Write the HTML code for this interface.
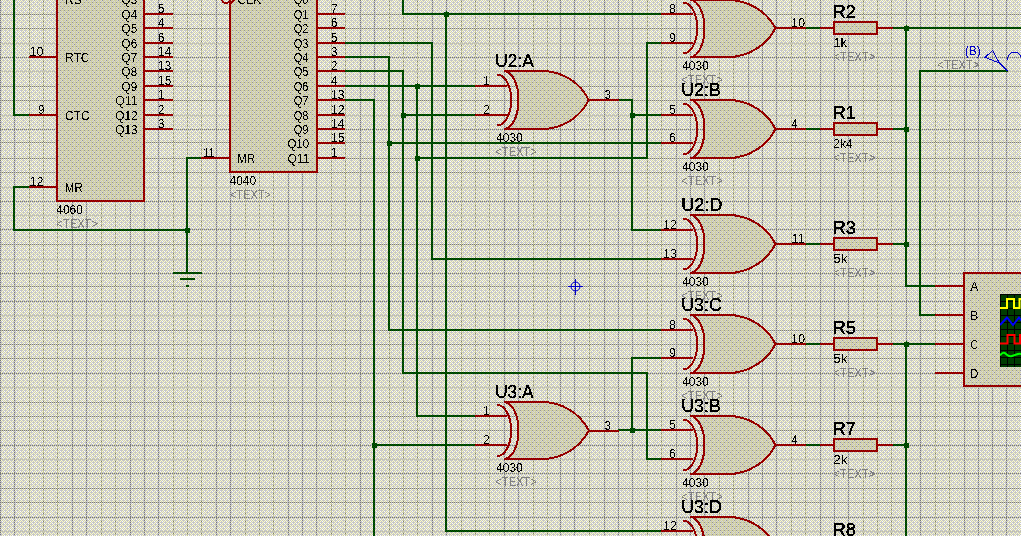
<!DOCTYPE html>
<html><head><meta charset="utf-8"><style>
html,body{margin:0;padding:0;width:1021px;height:536px;overflow:hidden;background:#dcdccc}
svg{display:block;will-change:transform}
text{font-family:"Liberation Sans",sans-serif;}
</style></head><body>
<svg width="1021" height="536" viewBox="0 0 1021 536" shape-rendering="crispEdges">
<defs>
<pattern id="bg" patternUnits="userSpaceOnUse" x="-2" y="-2" width="8" height="8">
<rect width="8" height="8" fill="#c6c6ca"/>
<rect x="1" y="0" width="1" height="1" fill="#fcfcc4"/>
<rect x="5" y="0" width="1" height="1" fill="#fcfcc4"/>
<rect x="0" y="1" width="1" height="1" fill="#fcfcc4"/>
<rect x="2" y="1" width="1" height="1" fill="#ffffff"/>
<rect x="4" y="1" width="1" height="1" fill="#fcfcc4"/>
<rect x="6" y="1" width="1" height="1" fill="#ffffff"/>
<rect x="3" y="2" width="1" height="1" fill="#fcfcc4"/>
<rect x="5" y="2" width="1" height="1" fill="#fcfcc4"/>
<rect x="7" y="2" width="1" height="1" fill="#fcfcc4"/>
<rect x="0" y="3" width="1" height="1" fill="#fcfcc4"/>
<rect x="2" y="3" width="1" height="1" fill="#fcfcc4"/>
<rect x="4" y="3" width="1" height="1" fill="#ffffff"/>
<rect x="6" y="3" width="1" height="1" fill="#fcfcc4"/>
<rect x="1" y="4" width="1" height="1" fill="#fcfcc4"/>
<rect x="5" y="4" width="1" height="1" fill="#fcfcc4"/>
<rect x="0" y="5" width="1" height="1" fill="#fcfcc4"/>
<rect x="2" y="5" width="1" height="1" fill="#ffffff"/>
<rect x="4" y="5" width="1" height="1" fill="#fcfcc4"/>
<rect x="6" y="5" width="1" height="1" fill="#ffffff"/>
<rect x="3" y="6" width="1" height="1" fill="#fcfcc4"/>
<rect x="7" y="6" width="1" height="1" fill="#fcfcc4"/>
<rect x="0" y="7" width="1" height="1" fill="#fcfcc4"/>
<rect x="2" y="7" width="1" height="1" fill="#fcfcc4"/>
<rect x="4" y="7" width="1" height="1" fill="#fcfcc4"/>
<rect x="6" y="7" width="1" height="1" fill="#fcfcc4"/>
</pattern>
<pattern id="bf" patternUnits="userSpaceOnUse" x="-2" y="-4" width="8" height="8">
<rect width="8" height="8" fill="#d0cfa0"/>
<rect x="3" y="0" width="1" height="1" fill="#d6d6da"/>
<rect x="4" y="0" width="1" height="1" fill="#94949a"/>
<rect x="7" y="0" width="1" height="1" fill="#d6d6da"/>
<rect x="0" y="1" width="1" height="1" fill="#d6d6da"/>
<rect x="2" y="1" width="1" height="1" fill="#d6d6da"/>
<rect x="4" y="1" width="1" height="1" fill="#d6d6da"/>
<rect x="6" y="1" width="1" height="1" fill="#d6d6da"/>
<rect x="2" y="2" width="1" height="1" fill="#94949a"/>
<rect x="6" y="2" width="1" height="1" fill="#94949a"/>
<rect x="0" y="3" width="1" height="1" fill="#d6d6da"/>
<rect x="2" y="3" width="1" height="1" fill="#d6d6da"/>
<rect x="4" y="3" width="1" height="1" fill="#d6d6da"/>
<rect x="6" y="3" width="1" height="1" fill="#d6d6da"/>
<rect x="0" y="4" width="1" height="1" fill="#94949a"/>
<rect x="3" y="4" width="1" height="1" fill="#d6d6da"/>
<rect x="7" y="4" width="1" height="1" fill="#d6d6da"/>
<rect x="0" y="5" width="1" height="1" fill="#d6d6da"/>
<rect x="2" y="5" width="1" height="1" fill="#d6d6da"/>
<rect x="4" y="5" width="1" height="1" fill="#d6d6da"/>
<rect x="6" y="5" width="1" height="1" fill="#d6d6da"/>
<rect x="2" y="6" width="1" height="1" fill="#94949a"/>
<rect x="6" y="6" width="1" height="1" fill="#94949a"/>
<rect x="0" y="7" width="1" height="1" fill="#d6d6da"/>
<rect x="2" y="7" width="1" height="1" fill="#d6d6da"/>
<rect x="4" y="7" width="1" height="1" fill="#d6d6da"/>
<rect x="6" y="7" width="1" height="1" fill="#d6d6da"/>
</pattern>
<pattern id="rp" patternUnits="userSpaceOnUse" width="2" height="2"><rect width="2" height="2" fill="#7a0000"/><rect width="1" height="1" fill="#b00000"/><rect x="1" y="1" width="1" height="1" fill="#b00000"/></pattern>
<pattern id="gp" patternUnits="userSpaceOnUse" width="2" height="2"><rect width="2" height="2" fill="#002800"/><rect x="1" width="1" height="1" fill="#006c00"/><rect y="1" width="1" height="1" fill="#006c00"/></pattern>
<filter id="crisp" x="0" y="0" width="1021" height="536" filterUnits="userSpaceOnUse" color-interpolation-filters="sRGB"><feComponentTransfer><feFuncA type="discrete" tableValues="0 1"/></feComponentTransfer></filter>
</defs>
<rect width="1021" height="536" fill="url(#bg)"/>
<pattern id="vd" patternUnits="userSpaceOnUse" width="1" height="2"><rect width="1" height="2" fill="#c6c6ca"/><rect width="1" height="1" fill="#787878"/></pattern>
<pattern id="vl" patternUnits="userSpaceOnUse" width="1" height="4"><rect width="1" height="4" fill="#c4c49c"/><rect y="1" width="1" height="1" fill="#787878"/></pattern>
<pattern id="hd" patternUnits="userSpaceOnUse" width="4" height="1"><rect width="4" height="1" fill="#c6c6ca"/><rect width="1" height="1" fill="#787878"/><rect x="2" width="1" height="1" fill="#787878"/><rect x="1" width="1" height="1" fill="#c4c49c"/></pattern>
<rect x="0" y="0" width="1" height="536" fill="url(#vd)"/>
<rect x="14" y="0" width="1" height="536" fill="url(#vd)"/>
<rect x="29" y="0" width="1" height="536" fill="url(#vl)"/>
<rect x="43" y="0" width="1" height="536" fill="url(#vl)"/>
<rect x="57" y="0" width="1" height="536" fill="url(#vl)"/>
<rect x="72" y="0" width="1" height="536" fill="url(#vd)"/>
<rect x="86" y="0" width="1" height="536" fill="url(#vd)"/>
<rect x="101" y="0" width="1" height="536" fill="url(#vl)"/>
<rect x="115" y="0" width="1" height="536" fill="url(#vl)"/>
<rect x="130" y="0" width="1" height="536" fill="url(#vd)"/>
<rect x="144" y="0" width="1" height="536" fill="url(#vd)"/>
<rect x="158" y="0" width="1" height="536" fill="url(#vd)"/>
<rect x="173" y="0" width="1" height="536" fill="url(#vl)"/>
<rect x="187" y="0" width="1" height="536" fill="url(#vl)"/>
<rect x="201" y="0" width="1" height="536" fill="url(#vl)"/>
<rect x="216" y="0" width="1" height="536" fill="url(#vd)"/>
<rect x="230" y="0" width="1" height="536" fill="url(#vd)"/>
<rect x="245" y="0" width="1" height="536" fill="url(#vl)"/>
<rect x="259" y="0" width="1" height="536" fill="url(#vl)"/>
<rect x="273" y="0" width="1" height="536" fill="url(#vl)"/>
<rect x="288" y="0" width="1" height="536" fill="url(#vd)"/>
<rect x="302" y="0" width="1" height="536" fill="url(#vd)"/>
<rect x="316" y="0" width="1" height="536" fill="url(#vd)"/>
<rect x="331" y="0" width="1" height="536" fill="url(#vl)"/>
<rect x="345" y="0" width="1" height="536" fill="url(#vl)"/>
<rect x="360" y="0" width="1" height="536" fill="url(#vd)"/>
<rect x="374" y="0" width="1" height="536" fill="url(#vd)"/>
<rect x="389" y="0" width="1" height="536" fill="url(#vl)"/>
<rect x="403" y="0" width="1" height="536" fill="url(#vl)"/>
<rect x="417" y="0" width="1" height="536" fill="url(#vl)"/>
<rect x="432" y="0" width="1" height="536" fill="url(#vd)"/>
<rect x="446" y="0" width="1" height="536" fill="url(#vd)"/>
<rect x="461" y="0" width="1" height="536" fill="url(#vl)"/>
<rect x="475" y="0" width="1" height="536" fill="url(#vl)"/>
<rect x="489" y="0" width="1" height="536" fill="url(#vl)"/>
<rect x="504" y="0" width="1" height="536" fill="url(#vd)"/>
<rect x="518" y="0" width="1" height="536" fill="url(#vd)"/>
<rect x="533" y="0" width="1" height="536" fill="url(#vl)"/>
<rect x="547" y="0" width="1" height="536" fill="url(#vl)"/>
<rect x="560" y="0" width="1" height="536" fill="url(#vd)"/>
<rect x="574" y="0" width="1" height="536" fill="url(#vd)"/>
<rect x="589" y="0" width="1" height="536" fill="url(#vl)"/>
<rect x="604" y="0" width="1" height="536" fill="url(#vd)"/>
<rect x="618" y="0" width="1" height="536" fill="url(#vd)"/>
<rect x="632" y="0" width="1" height="536" fill="url(#vd)"/>
<rect x="647" y="0" width="1" height="536" fill="url(#vl)"/>
<rect x="661" y="0" width="1" height="536" fill="url(#vl)"/>
<rect x="676" y="0" width="1" height="536" fill="url(#vd)"/>
<rect x="690" y="0" width="1" height="536" fill="url(#vd)"/>
<rect x="704" y="0" width="1" height="536" fill="url(#vd)"/>
<rect x="719" y="0" width="1" height="536" fill="url(#vl)"/>
<rect x="733" y="0" width="1" height="536" fill="url(#vl)"/>
<rect x="748" y="0" width="1" height="536" fill="url(#vd)"/>
<rect x="762" y="0" width="1" height="536" fill="url(#vd)"/>
<rect x="776" y="0" width="1" height="536" fill="url(#vd)"/>
<rect x="791" y="0" width="1" height="536" fill="url(#vl)"/>
<rect x="805" y="0" width="1" height="536" fill="url(#vl)"/>
<rect x="820" y="0" width="1" height="536" fill="url(#vd)"/>
<rect x="834" y="0" width="1" height="536" fill="url(#vd)"/>
<rect x="848" y="0" width="1" height="536" fill="url(#vd)"/>
<rect x="863" y="0" width="1" height="536" fill="url(#vl)"/>
<rect x="877" y="0" width="1" height="536" fill="url(#vl)"/>
<rect x="891" y="0" width="1" height="536" fill="url(#vl)"/>
<rect x="906" y="0" width="1" height="536" fill="url(#vd)"/>
<rect x="920" y="0" width="1" height="536" fill="url(#vd)"/>
<rect x="935" y="0" width="1" height="536" fill="url(#vl)"/>
<rect x="949" y="0" width="1" height="536" fill="url(#vl)"/>
<rect x="964" y="0" width="1" height="536" fill="url(#vd)"/>
<rect x="978" y="0" width="1" height="536" fill="url(#vd)"/>
<rect x="992" y="0" width="1" height="536" fill="url(#vd)"/>
<rect x="1006" y="0" width="1" height="536" fill="url(#vd)"/>
<pattern id="hl" patternUnits="userSpaceOnUse" width="2" height="1"><rect width="2" height="1" fill="#c6c6ca"/><rect width="1" height="1" fill="#c4c49c"/></pattern>
<rect x="0" y="14" width="1021" height="1" fill="url(#hd)"/>
<rect x="0" y="28" width="1021" height="1" fill="url(#hd)"/>
<rect x="0" y="43" width="1021" height="1" fill="url(#hl)"/>
<rect x="0" y="57" width="1021" height="1" fill="url(#hd)"/>
<rect x="0" y="71" width="1021" height="1" fill="url(#hl)"/>
<rect x="0" y="86" width="1021" height="1" fill="url(#hd)"/>
<rect x="0" y="100" width="1021" height="1" fill="url(#hd)"/>
<rect x="0" y="115" width="1021" height="1" fill="url(#hl)"/>
<rect x="0" y="129" width="1021" height="1" fill="url(#hd)"/>
<rect x="0" y="142" width="1021" height="1" fill="url(#hd)"/>
<rect x="0" y="158" width="1021" height="1" fill="url(#hd)"/>
<rect x="0" y="172" width="1021" height="1" fill="url(#hd)"/>
<rect x="0" y="187" width="1021" height="1" fill="url(#hl)"/>
<rect x="0" y="201" width="1021" height="1" fill="url(#hd)"/>
<rect x="0" y="215" width="1021" height="1" fill="url(#hl)"/>
<rect x="0" y="229" width="1021" height="1" fill="url(#hd)"/>
<rect x="0" y="244" width="1021" height="1" fill="url(#hd)"/>
<rect x="0" y="259" width="1021" height="1" fill="url(#hl)"/>
<rect x="0" y="273" width="1021" height="1" fill="url(#hd)"/>
<rect x="0" y="286" width="1021" height="1" fill="url(#hd)"/>
<rect x="0" y="301" width="1021" height="1" fill="url(#hd)"/>
<rect x="0" y="315" width="1021" height="1" fill="url(#hl)"/>
<rect x="0" y="330" width="1021" height="1" fill="url(#hd)"/>
<rect x="0" y="344" width="1021" height="1" fill="url(#hd)"/>
<rect x="0" y="358" width="1021" height="1" fill="url(#hd)"/>
<rect x="0" y="373" width="1021" height="1" fill="url(#hd)"/>
<rect x="0" y="387" width="1021" height="1" fill="url(#hl)"/>
<rect x="0" y="402" width="1021" height="1" fill="url(#hd)"/>
<rect x="0" y="416" width="1021" height="1" fill="url(#hd)"/>
<rect x="0" y="430" width="1021" height="1" fill="url(#hd)"/>
<rect x="0" y="445" width="1021" height="1" fill="url(#hd)"/>
<rect x="0" y="459" width="1021" height="1" fill="url(#hl)"/>
<rect x="0" y="473" width="1021" height="1" fill="url(#hd)"/>
<rect x="0" y="488" width="1021" height="1" fill="url(#hd)"/>
<rect x="0" y="502" width="1021" height="1" fill="url(#hd)"/>
<rect x="0" y="517" width="1021" height="1" fill="url(#hd)"/>
<rect x="0" y="531" width="1021" height="1" fill="url(#hl)"/>
<rect x="13.0" y="-3" width="2" height="119" fill="url(#gp)"/>
<rect x="13" y="114.0" width="17" height="2" fill="url(#gp)"/>
<rect x="13" y="186.0" width="17" height="2" fill="url(#gp)"/>
<rect x="13.0" y="186" width="2" height="45" fill="url(#gp)"/>
<rect x="13" y="229.0" width="175" height="2" fill="url(#gp)"/>
<rect x="186" y="157.0" width="16" height="2" fill="url(#gp)"/>
<rect x="186.0" y="157" width="2" height="117" fill="url(#gp)"/>
<rect x="185" y="228" width="5" height="5" fill="url(#gp)"/>
<rect x="187" y="227" width="1" height="1" fill="url(#gp)"/>
<rect x="173" y="272.0" width="29" height="2" fill="url(#gp)"/>
<rect x="180" y="278.0" width="15" height="2" fill="url(#gp)"/>
<rect x="186" y="285.0" width="3" height="2" fill="url(#gp)"/>
<rect x="344" y="42.0" width="89" height="2" fill="url(#gp)"/>
<rect x="431.0" y="42" width="2" height="218" fill="url(#gp)"/>
<rect x="431" y="258.0" width="231" height="2" fill="url(#gp)"/>
<rect x="344" y="56.0" width="46" height="2" fill="url(#gp)"/>
<rect x="388.0" y="56" width="2" height="275" fill="url(#gp)"/>
<rect x="388" y="329.0" width="274" height="2" fill="url(#gp)"/>
<rect x="388" y="142.0" width="274" height="2" fill="url(#gp)"/>
<rect x="387" y="141" width="5" height="5" fill="url(#gp)"/>
<rect x="389" y="140" width="1" height="1" fill="url(#gp)"/>
<rect x="344" y="70.0" width="60" height="2" fill="url(#gp)"/>
<rect x="402.0" y="70" width="2" height="304" fill="url(#gp)"/>
<rect x="402" y="372.0" width="246" height="2" fill="url(#gp)"/>
<rect x="646.0" y="372" width="2" height="88" fill="url(#gp)"/>
<rect x="646" y="458.0" width="16" height="2" fill="url(#gp)"/>
<rect x="402" y="114.0" width="74" height="2" fill="url(#gp)"/>
<rect x="401" y="113" width="5" height="5" fill="url(#gp)"/>
<rect x="403" y="112" width="1" height="1" fill="url(#gp)"/>
<rect x="344" y="85.0" width="132" height="2" fill="url(#gp)"/>
<rect x="416.0" y="85" width="2" height="332" fill="url(#gp)"/>
<rect x="416" y="415.0" width="60" height="2" fill="url(#gp)"/>
<rect x="415" y="84" width="5" height="5" fill="url(#gp)"/>
<rect x="417" y="83" width="1" height="1" fill="url(#gp)"/>
<rect x="416" y="157.0" width="232" height="2" fill="url(#gp)"/>
<rect x="646.0" y="42" width="2" height="117" fill="url(#gp)"/>
<rect x="646" y="42.0" width="16" height="2" fill="url(#gp)"/>
<rect x="415" y="156" width="5" height="5" fill="url(#gp)"/>
<rect x="417" y="155" width="1" height="1" fill="url(#gp)"/>
<rect x="344" y="99.0" width="31" height="2" fill="url(#gp)"/>
<rect x="373.0" y="99" width="2" height="442" fill="url(#gp)"/>
<rect x="373" y="444.0" width="103" height="2" fill="url(#gp)"/>
<rect x="372" y="443" width="5" height="5" fill="url(#gp)"/>
<rect x="374" y="442" width="1" height="1" fill="url(#gp)"/>
<rect x="402.0" y="-3" width="2" height="18" fill="url(#gp)"/>
<rect x="402" y="13.0" width="260" height="2" fill="url(#gp)"/>
<rect x="445.0" y="13" width="2" height="519" fill="url(#gp)"/>
<rect x="445" y="530.0" width="217" height="2" fill="url(#gp)"/>
<rect x="444" y="12" width="5" height="5" fill="url(#gp)"/>
<rect x="446" y="11" width="1" height="1" fill="url(#gp)"/>
<rect x="618" y="99.0" width="15" height="2" fill="url(#gp)"/>
<rect x="631.0" y="99" width="2" height="132" fill="url(#gp)"/>
<rect x="631" y="229.0" width="31" height="2" fill="url(#gp)"/>
<rect x="631" y="114.0" width="31" height="2" fill="url(#gp)"/>
<rect x="630" y="113" width="5" height="5" fill="url(#gp)"/>
<rect x="632" y="112" width="1" height="1" fill="url(#gp)"/>
<rect x="631" y="357.0" width="31" height="2" fill="url(#gp)"/>
<rect x="631.0" y="357" width="2" height="74" fill="url(#gp)"/>
<rect x="631" y="429.0" width="31" height="2" fill="url(#gp)"/>
<rect x="618" y="429.0" width="15" height="2" fill="url(#gp)"/>
<rect x="630" y="428" width="5" height="5" fill="url(#gp)"/>
<rect x="632" y="427" width="1" height="1" fill="url(#gp)"/>
<rect x="805" y="27.0" width="16" height="2" fill="url(#gp)"/>
<rect x="892" y="27.0" width="15" height="2" fill="url(#gp)"/>
<rect x="805" y="128.0" width="16" height="2" fill="url(#gp)"/>
<rect x="892" y="128.0" width="15" height="2" fill="url(#gp)"/>
<rect x="805" y="243.0" width="16" height="2" fill="url(#gp)"/>
<rect x="892" y="243.0" width="15" height="2" fill="url(#gp)"/>
<rect x="805" y="343.0" width="16" height="2" fill="url(#gp)"/>
<rect x="892" y="343.0" width="15" height="2" fill="url(#gp)"/>
<rect x="805" y="444.0" width="16" height="2" fill="url(#gp)"/>
<rect x="892" y="444.0" width="15" height="2" fill="url(#gp)"/>
<rect x="805" y="545.0" width="16" height="2" fill="url(#gp)"/>
<rect x="892" y="545.0" width="15" height="2" fill="url(#gp)"/>
<rect x="905" y="27.0" width="121" height="2" fill="url(#gp)"/>
<rect x="905.0" y="27" width="2" height="260" fill="url(#gp)"/>
<rect x="905" y="285.0" width="31" height="2" fill="url(#gp)"/>
<rect x="905.0" y="343" width="2" height="198" fill="url(#gp)"/>
<rect x="905" y="343.0" width="31" height="2" fill="url(#gp)"/>
<rect x="919" y="70.0" width="89" height="2" fill="url(#gp)"/>
<rect x="919.0" y="70" width="2" height="246" fill="url(#gp)"/>
<rect x="919" y="314.0" width="17" height="2" fill="url(#gp)"/>
<rect x="904" y="26" width="5" height="5" fill="url(#gp)"/>
<rect x="906" y="25" width="1" height="1" fill="url(#gp)"/>
<rect x="904" y="127" width="5" height="5" fill="url(#gp)"/>
<rect x="906" y="126" width="1" height="1" fill="url(#gp)"/>
<rect x="904" y="242" width="5" height="5" fill="url(#gp)"/>
<rect x="906" y="241" width="1" height="1" fill="url(#gp)"/>
<rect x="904" y="342" width="5" height="5" fill="url(#gp)"/>
<rect x="906" y="341" width="1" height="1" fill="url(#gp)"/>
<rect x="904" y="443" width="5" height="5" fill="url(#gp)"/>
<rect x="906" y="442" width="1" height="1" fill="url(#gp)"/>
<rect x="57" y="-60" width="87" height="261" fill="url(#bf)" stroke="url(#rp)" stroke-width="2"/>
<rect x="29" y="-2.0" width="28" height="2" fill="url(#rp)"/>
<rect x="29" y="56.0" width="28" height="2" fill="url(#rp)"/>
<rect x="29" y="114.0" width="28" height="2" fill="url(#rp)"/>
<rect x="29" y="186.0" width="28" height="2" fill="url(#rp)"/>
<rect x="144" y="-2.0" width="29" height="2" fill="url(#rp)"/>
<rect x="144" y="13.0" width="29" height="2" fill="url(#rp)"/>
<rect x="144" y="27.0" width="29" height="2" fill="url(#rp)"/>
<rect x="144" y="42.0" width="29" height="2" fill="url(#rp)"/>
<rect x="144" y="56.0" width="29" height="2" fill="url(#rp)"/>
<rect x="144" y="70.0" width="29" height="2" fill="url(#rp)"/>
<rect x="144" y="85.0" width="29" height="2" fill="url(#rp)"/>
<rect x="144" y="99.0" width="29" height="2" fill="url(#rp)"/>
<rect x="144" y="114.0" width="29" height="2" fill="url(#rp)"/>
<rect x="144" y="128.0" width="29" height="2" fill="url(#rp)"/>
<rect x="230" y="-60" width="87" height="232" fill="url(#bf)" stroke="url(#rp)" stroke-width="2"/>
<rect x="201" y="-2.0" width="21" height="2" fill="url(#rp)"/>
<rect x="201" y="157.0" width="29" height="2" fill="url(#rp)"/>
<circle cx="226" cy="-1" r="4" fill="none" stroke="url(#rp)" stroke-width="2"/>
<path d="M230,-6 L235,-1 L230,4" fill="none" stroke="url(#rp)" stroke-width="2"/>
<rect x="317" y="-2.0" width="28" height="2" fill="url(#rp)"/>
<rect x="317" y="13.0" width="28" height="2" fill="url(#rp)"/>
<rect x="317" y="27.0" width="28" height="2" fill="url(#rp)"/>
<rect x="317" y="42.0" width="28" height="2" fill="url(#rp)"/>
<rect x="317" y="56.0" width="28" height="2" fill="url(#rp)"/>
<rect x="317" y="70.0" width="28" height="2" fill="url(#rp)"/>
<rect x="317" y="85.0" width="28" height="2" fill="url(#rp)"/>
<rect x="317" y="99.0" width="28" height="2" fill="url(#rp)"/>
<rect x="317" y="114.0" width="28" height="2" fill="url(#rp)"/>
<rect x="317" y="128.0" width="28" height="2" fill="url(#rp)"/>
<rect x="317" y="142.0" width="28" height="2" fill="url(#rp)"/>
<rect x="317" y="157.0" width="28" height="2" fill="url(#rp)"/>
<path d="M690,0 L728,0 A54.29,54.29 0 0 1 775.5,28 A53.40,53.40 0 0 1 728,57 L690,57 A14.5,28.5 0 0 0 690,0 Z" fill="url(#bf)" stroke="url(#rp)" stroke-width="2"/>
<path d="M683.3,2.5 A13.9,25.5 0 0 1 683.3,53.5" fill="none" stroke="url(#rp)" stroke-width="2"/>
<rect x="661" y="13.0" width="32" height="2" fill="url(#rp)"/>
<rect x="661" y="42.0" width="32" height="2" fill="url(#rp)"/>
<rect x="775.5" y="27.0" width="30.0" height="2" fill="url(#rp)"/>
<path d="M504,71 L542,71 A52.26,52.26 0 0 1 588.8,100.0 A52.26,52.26 0 0 1 542,129 L504,129 A14.5,29.0 0 0 0 504,71 Z" fill="url(#bf)" stroke="url(#rp)" stroke-width="2"/>
<path d="M497.3,74.5 A13.9,25.5 0 0 1 497.3,125.5" fill="none" stroke="url(#rp)" stroke-width="2"/>
<rect x="475" y="85.0" width="32" height="2" fill="url(#rp)"/>
<rect x="475" y="114.0" width="32" height="2" fill="url(#rp)"/>
<rect x="588.8" y="99.0" width="30.0" height="2" fill="url(#rp)"/>
<path d="M690,100 L728,100 A53.40,53.40 0 0 1 775.5,129.0 A53.40,53.40 0 0 1 728,158 L690,158 A14.5,29.0 0 0 0 690,100 Z" fill="url(#bf)" stroke="url(#rp)" stroke-width="2"/>
<path d="M683.3,103.5 A13.9,25.5 0 0 1 683.3,154.5" fill="none" stroke="url(#rp)" stroke-width="2"/>
<rect x="661" y="114.0" width="32" height="2" fill="url(#rp)"/>
<rect x="661" y="142.0" width="32" height="2" fill="url(#rp)"/>
<rect x="775.5" y="128.0" width="30.0" height="2" fill="url(#rp)"/>
<path d="M690,215 L728,215 A53.40,53.40 0 0 1 775.5,244.0 A53.40,53.40 0 0 1 728,273 L690,273 A14.5,29.0 0 0 0 690,215 Z" fill="url(#bf)" stroke="url(#rp)" stroke-width="2"/>
<path d="M683.3,218.5 A13.9,25.5 0 0 1 683.3,269.5" fill="none" stroke="url(#rp)" stroke-width="2"/>
<rect x="661" y="229.0" width="32" height="2" fill="url(#rp)"/>
<rect x="661" y="258.0" width="32" height="2" fill="url(#rp)"/>
<rect x="775.5" y="243.0" width="30.0" height="2" fill="url(#rp)"/>
<path d="M690,315 L728,315 A53.40,53.40 0 0 1 775.5,344.0 A53.40,53.40 0 0 1 728,373 L690,373 A14.5,29.0 0 0 0 690,315 Z" fill="url(#bf)" stroke="url(#rp)" stroke-width="2"/>
<path d="M683.3,318.5 A13.9,25.5 0 0 1 683.3,369.5" fill="none" stroke="url(#rp)" stroke-width="2"/>
<rect x="661" y="329.0" width="32" height="2" fill="url(#rp)"/>
<rect x="661" y="357.0" width="32" height="2" fill="url(#rp)"/>
<rect x="775.5" y="343.0" width="30.0" height="2" fill="url(#rp)"/>
<path d="M504,402 L542,402 A52.68,52.68 0 0 1 588.8,430.5 A52.68,52.68 0 0 1 542,459 L504,459 A14.5,28.5 0 0 0 504,402 Z" fill="url(#bf)" stroke="url(#rp)" stroke-width="2"/>
<path d="M497.3,405.0 A13.9,25.5 0 0 1 497.3,456.0" fill="none" stroke="url(#rp)" stroke-width="2"/>
<rect x="475" y="415.0" width="32" height="2" fill="url(#rp)"/>
<rect x="475" y="444.0" width="32" height="2" fill="url(#rp)"/>
<rect x="588.8" y="429.5" width="30.0" height="2" fill="url(#rp)"/>
<path d="M690,416 L728,416 A53.40,53.40 0 0 1 775.5,445.0 A53.40,53.40 0 0 1 728,474 L690,474 A14.5,29.0 0 0 0 690,416 Z" fill="url(#bf)" stroke="url(#rp)" stroke-width="2"/>
<path d="M683.3,419.5 A13.9,25.5 0 0 1 683.3,470.5" fill="none" stroke="url(#rp)" stroke-width="2"/>
<rect x="661" y="429.0" width="32" height="2" fill="url(#rp)"/>
<rect x="661" y="458.0" width="32" height="2" fill="url(#rp)"/>
<rect x="775.5" y="444.0" width="30.0" height="2" fill="url(#rp)"/>
<path d="M690,517 L728,517 A53.40,53.40 0 0 1 775.5,546.0 A53.40,53.40 0 0 1 728,575 L690,575 A14.5,29.0 0 0 0 690,517 Z" fill="url(#bf)" stroke="url(#rp)" stroke-width="2"/>
<path d="M683.3,520.5 A13.9,25.5 0 0 1 683.3,571.5" fill="none" stroke="url(#rp)" stroke-width="2"/>
<rect x="661" y="530.0" width="32" height="2" fill="url(#rp)"/>
<rect x="661" y="559.0" width="32" height="2" fill="url(#rp)"/>
<rect x="775.5" y="545.0" width="30.0" height="2" fill="url(#rp)"/>
<rect x="820" y="27.0" width="14" height="2" fill="url(#rp)"/>
<rect x="877" y="27.0" width="16" height="2" fill="url(#rp)"/>
<rect x="834" y="22" width="43" height="12" fill="url(#bf)" stroke="url(#rp)" stroke-width="2"/>
<rect x="820" y="128.0" width="14" height="2" fill="url(#rp)"/>
<rect x="877" y="128.0" width="16" height="2" fill="url(#rp)"/>
<rect x="834" y="123" width="43" height="12" fill="url(#bf)" stroke="url(#rp)" stroke-width="2"/>
<rect x="820" y="243.0" width="14" height="2" fill="url(#rp)"/>
<rect x="877" y="243.0" width="16" height="2" fill="url(#rp)"/>
<rect x="834" y="238" width="43" height="12" fill="url(#bf)" stroke="url(#rp)" stroke-width="2"/>
<rect x="820" y="343.0" width="14" height="2" fill="url(#rp)"/>
<rect x="877" y="343.0" width="16" height="2" fill="url(#rp)"/>
<rect x="834" y="338" width="43" height="12" fill="url(#bf)" stroke="url(#rp)" stroke-width="2"/>
<rect x="820" y="444.0" width="14" height="2" fill="url(#rp)"/>
<rect x="877" y="444.0" width="16" height="2" fill="url(#rp)"/>
<rect x="834" y="439" width="43" height="12" fill="url(#bf)" stroke="url(#rp)" stroke-width="2"/>
<rect x="820" y="545.0" width="14" height="2" fill="url(#rp)"/>
<rect x="877" y="545.0" width="16" height="2" fill="url(#rp)"/>
<rect x="834" y="540" width="43" height="12" fill="url(#bf)" stroke="url(#rp)" stroke-width="2"/>
<rect x="964" y="273" width="80" height="113" fill="url(#bf)" stroke="url(#rp)" stroke-width="2"/>
<rect x="935" y="285.0" width="29" height="2" fill="url(#rp)"/>
<rect x="935" y="314.0" width="29" height="2" fill="url(#rp)"/>
<rect x="935" y="343.0" width="29" height="2" fill="url(#rp)"/>
<rect x="935" y="372.0" width="29" height="2" fill="url(#rp)"/>
<clipPath id="scr"><rect x="1000" y="294" width="30" height="73"/></clipPath>
<g clip-path="url(#scr)">
<rect x="1000" y="294" width="30" height="73" fill="#000"/>
<path d="M1001,295h6v6h-6zM1001,302h6v6h-6zM1001,309h6v6h-6zM1001,316h6v6h-6zM1001,323h6v6h-6zM1001,330h6v6h-6zM1001,337h6v6h-6zM1001,344h6v6h-6zM1001,351h6v6h-6zM1001,358h6v6h-6zM1001,365h6v6h-6zM1008,295h6v6h-6zM1008,302h6v6h-6zM1008,309h6v6h-6zM1008,316h6v6h-6zM1008,323h6v6h-6zM1008,330h6v6h-6zM1008,337h6v6h-6zM1008,344h6v6h-6zM1008,351h6v6h-6zM1008,358h6v6h-6zM1008,365h6v6h-6zM1015,295h6v6h-6zM1015,302h6v6h-6zM1015,309h6v6h-6zM1015,316h6v6h-6zM1015,323h6v6h-6zM1015,330h6v6h-6zM1015,337h6v6h-6zM1015,344h6v6h-6zM1015,351h6v6h-6zM1015,358h6v6h-6zM1015,365h6v6h-6zM1022,295h6v6h-6zM1022,302h6v6h-6zM1022,309h6v6h-6zM1022,316h6v6h-6zM1022,323h6v6h-6zM1022,330h6v6h-6zM1022,337h6v6h-6zM1022,344h6v6h-6zM1022,351h6v6h-6zM1022,358h6v6h-6zM1022,365h6v6h-6zM1029,295h6v6h-6zM1029,302h6v6h-6zM1029,309h6v6h-6zM1029,316h6v6h-6zM1029,323h6v6h-6zM1029,330h6v6h-6zM1029,337h6v6h-6zM1029,344h6v6h-6zM1029,351h6v6h-6zM1029,358h6v6h-6zM1029,365h6v6h-6z" fill="#003c00"/>
<path d="M1000,308 H1007 V299 H1014 V308 H1019.5 V299 H1025" fill="none" stroke="#ffff00" stroke-width="2" shape-rendering="auto"/>
<path d="M1000,325 L1007,317.5 L1013,325 L1019,317.5 L1025,325" fill="none" stroke="#0000ff" stroke-width="2" shape-rendering="auto"/>
<path d="M1000,343.5 H1007.5 V335 H1014.5 V343.5 H1020 V335 H1025" fill="none" stroke="#ff0000" stroke-width="2" shape-rendering="auto"/>
<path d="M1000,355.5 Q1003,351 1006,354 T1012,356 T1018,354 T1024,356" fill="none" stroke="#00ff00" stroke-width="2" shape-rendering="auto"/>
</g>
<path d="M985.3,57.4 L992.6,50.2 L999.3,63 Z M999.3,63 L1007.4,71.1" fill="none" stroke="#0000c8" stroke-width="1"/>
<path d="M1007.5,59.5 A7,7.5 0 0 1 1021.5,59.5" fill="none" stroke="#0000c8" stroke-width="1"/>
<circle cx="575.5" cy="286.5" r="4.5" fill="none" stroke="#0000c8" stroke-width="1" shape-rendering="auto"/>
<rect x="575" y="279" width="1" height="16" fill="#0000c8"/><rect x="568" y="286" width="15" height="1" fill="#0000c8"/>
<g filter="url(#crisp)">
<text x="64.8" y="4" font-size="12.5" fill="#000" textLength="16.9" lengthAdjust="spacingAndGlyphs">RS</text>
<text x="65.0" y="62" font-size="12.5" fill="#000" textLength="24.5" lengthAdjust="spacingAndGlyphs">RTC</text>
<text x="65.0" y="120" font-size="12.5" fill="#000" textLength="24.5" lengthAdjust="spacingAndGlyphs">CTC</text>
<text x="64.8" y="192" font-size="12.5" fill="#000" textLength="17.9" lengthAdjust="spacingAndGlyphs">MR</text>
<text x="121.6" y="4" font-size="12.5" fill="#000" textLength="15.5" lengthAdjust="spacingAndGlyphs">Q3</text>
<text x="121.6" y="19" font-size="12.5" fill="#000" textLength="15.5" lengthAdjust="spacingAndGlyphs">Q4</text>
<text x="121.6" y="33" font-size="12.5" fill="#000" textLength="15.5" lengthAdjust="spacingAndGlyphs">Q5</text>
<text x="121.6" y="48" font-size="12.5" fill="#000" textLength="15.5" lengthAdjust="spacingAndGlyphs">Q6</text>
<text x="121.6" y="62" font-size="12.5" fill="#000" textLength="15.5" lengthAdjust="spacingAndGlyphs">Q7</text>
<text x="121.6" y="76" font-size="12.5" fill="#000" textLength="15.5" lengthAdjust="spacingAndGlyphs">Q8</text>
<text x="121.6" y="91" font-size="12.5" fill="#000" textLength="15.5" lengthAdjust="spacingAndGlyphs">Q9</text>
<text x="115.3" y="105" font-size="12.5" fill="#000" textLength="22.4" lengthAdjust="spacingAndGlyphs">Q11</text>
<text x="115.3" y="120" font-size="12.5" fill="#000" textLength="22.4" lengthAdjust="spacingAndGlyphs">Q12</text>
<text x="115.3" y="134" font-size="12.5" fill="#000" textLength="22.4" lengthAdjust="spacingAndGlyphs">Q13</text>
<text x="29.4" y="56" font-size="12.5" fill="#000" textLength="14.0" lengthAdjust="spacingAndGlyphs">10</text>
<text x="37.9" y="114" font-size="12.5" fill="#000" textLength="6.5" lengthAdjust="spacingAndGlyphs">9</text>
<text x="29.5" y="186" font-size="12.5" fill="#000" textLength="14.0" lengthAdjust="spacingAndGlyphs">12</text>
<text x="158.1" y="13" font-size="12.5" fill="#000" textLength="6.4" lengthAdjust="spacingAndGlyphs">5</text>
<text x="158.1" y="27" font-size="12.5" fill="#000" textLength="6.4" lengthAdjust="spacingAndGlyphs">4</text>
<text x="158.1" y="42" font-size="12.5" fill="#000" textLength="6.4" lengthAdjust="spacingAndGlyphs">6</text>
<text x="158.1" y="56" font-size="12.5" fill="#000" textLength="13.1" lengthAdjust="spacingAndGlyphs">14</text>
<text x="158.1" y="70" font-size="12.5" fill="#000" textLength="13.1" lengthAdjust="spacingAndGlyphs">13</text>
<text x="158.1" y="85" font-size="12.5" fill="#000" textLength="13.1" lengthAdjust="spacingAndGlyphs">15</text>
<text x="158.1" y="99" font-size="12.5" fill="#000" textLength="6.4" lengthAdjust="spacingAndGlyphs">1</text>
<text x="158.1" y="114" font-size="12.5" fill="#000" textLength="6.4" lengthAdjust="spacingAndGlyphs">2</text>
<text x="158.1" y="128" font-size="12.5" fill="#000" textLength="6.4" lengthAdjust="spacingAndGlyphs">3</text>
<text x="56.3" y="214" font-size="12.5" fill="#000" textLength="26.5" lengthAdjust="spacingAndGlyphs">4060</text>
<text x="56.3" y="228" font-size="12.5" fill="#808080" textLength="41.7" lengthAdjust="spacingAndGlyphs">&lt;TEXT&gt;</text>
<text x="237.5" y="4" font-size="12.5" fill="#000" textLength="23.8" lengthAdjust="spacingAndGlyphs">CLK</text>
<text x="237.0" y="163" font-size="12.5" fill="#000" textLength="18.1" lengthAdjust="spacingAndGlyphs">MR</text>
<text x="293.7" y="4" font-size="12.5" fill="#000" textLength="14.8" lengthAdjust="spacingAndGlyphs">Q0</text>
<text x="293.7" y="19" font-size="12.5" fill="#000" textLength="14.8" lengthAdjust="spacingAndGlyphs">Q1</text>
<text x="293.7" y="33" font-size="12.5" fill="#000" textLength="14.8" lengthAdjust="spacingAndGlyphs">Q2</text>
<text x="293.7" y="48" font-size="12.5" fill="#000" textLength="14.8" lengthAdjust="spacingAndGlyphs">Q3</text>
<text x="293.7" y="62" font-size="12.5" fill="#000" textLength="14.8" lengthAdjust="spacingAndGlyphs">Q4</text>
<text x="293.7" y="76" font-size="12.5" fill="#000" textLength="14.8" lengthAdjust="spacingAndGlyphs">Q5</text>
<text x="293.7" y="91" font-size="12.5" fill="#000" textLength="14.8" lengthAdjust="spacingAndGlyphs">Q6</text>
<text x="293.7" y="105" font-size="12.5" fill="#000" textLength="14.8" lengthAdjust="spacingAndGlyphs">Q7</text>
<text x="293.7" y="120" font-size="12.5" fill="#000" textLength="14.8" lengthAdjust="spacingAndGlyphs">Q8</text>
<text x="293.7" y="134" font-size="12.5" fill="#000" textLength="14.8" lengthAdjust="spacingAndGlyphs">Q9</text>
<text x="287.4" y="148" font-size="12.5" fill="#000" textLength="21.8" lengthAdjust="spacingAndGlyphs">Q10</text>
<text x="287.4" y="163" font-size="12.5" fill="#000" textLength="21.8" lengthAdjust="spacingAndGlyphs">Q11</text>
<text x="203.2" y="157" font-size="12.5" fill="#000" textLength="11.7" lengthAdjust="spacingAndGlyphs">11</text>
<text x="330.9" y="13" font-size="12.5" fill="#000" textLength="6.4" lengthAdjust="spacingAndGlyphs">7</text>
<text x="330.9" y="27" font-size="12.5" fill="#000" textLength="6.4" lengthAdjust="spacingAndGlyphs">6</text>
<text x="330.9" y="42" font-size="12.5" fill="#000" textLength="6.4" lengthAdjust="spacingAndGlyphs">5</text>
<text x="330.9" y="56" font-size="12.5" fill="#000" textLength="6.4" lengthAdjust="spacingAndGlyphs">3</text>
<text x="330.9" y="70" font-size="12.5" fill="#000" textLength="6.4" lengthAdjust="spacingAndGlyphs">2</text>
<text x="330.9" y="85" font-size="12.5" fill="#000" textLength="6.4" lengthAdjust="spacingAndGlyphs">4</text>
<text x="330.9" y="99" font-size="12.5" fill="#000" textLength="13.6" lengthAdjust="spacingAndGlyphs">13</text>
<text x="330.9" y="114" font-size="12.5" fill="#000" textLength="13.6" lengthAdjust="spacingAndGlyphs">12</text>
<text x="330.9" y="128" font-size="12.5" fill="#000" textLength="13.6" lengthAdjust="spacingAndGlyphs">14</text>
<text x="330.9" y="142" font-size="12.5" fill="#000" textLength="13.6" lengthAdjust="spacingAndGlyphs">15</text>
<text x="330.9" y="157" font-size="12.5" fill="#000" textLength="6.4" lengthAdjust="spacingAndGlyphs">1</text>
<text x="229.5" y="185" font-size="12.5" fill="#000" textLength="26.6" lengthAdjust="spacingAndGlyphs">4040</text>
<text x="229.9" y="199" font-size="12.5" fill="#808080" textLength="41.1" lengthAdjust="spacingAndGlyphs">&lt;TEXT&gt;</text>
<text x="668.9" y="13" font-size="12.5" fill="#000" textLength="6.9" lengthAdjust="spacingAndGlyphs">8</text>
<text x="668.9" y="42" font-size="12.5" fill="#000" textLength="6.9" lengthAdjust="spacingAndGlyphs">9</text>
<text x="791.3" y="27" font-size="12.5" fill="#000" textLength="13.7" lengthAdjust="spacingAndGlyphs">10</text>
<text x="682.2" y="70" font-size="12.5" fill="#000" textLength="26.5" lengthAdjust="spacingAndGlyphs">4030</text>
<text x="681.5" y="84" font-size="12.5" fill="#808080" textLength="41.0" lengthAdjust="spacingAndGlyphs">&lt;TEXT&gt;</text>
<text x="482.9" y="85" font-size="12.5" fill="#000" textLength="6.9" lengthAdjust="spacingAndGlyphs">1</text>
<text x="482.9" y="114" font-size="12.5" fill="#000" textLength="6.9" lengthAdjust="spacingAndGlyphs">2</text>
<text x="604.8" y="99.0" font-size="12.5" fill="#000" textLength="6.0" lengthAdjust="spacingAndGlyphs">3</text>
<text x="495.2" y="66.5" font-size="18" fill="#000" textLength="38.6" lengthAdjust="spacingAndGlyphs" stroke="#000" stroke-width="0.3">U2:A</text>
<text x="496.2" y="142" font-size="12.5" fill="#000" textLength="26.5" lengthAdjust="spacingAndGlyphs">4030</text>
<text x="495.5" y="156" font-size="12.5" fill="#808080" textLength="41.0" lengthAdjust="spacingAndGlyphs">&lt;TEXT&gt;</text>
<text x="668.9" y="114" font-size="12.5" fill="#000" textLength="6.9" lengthAdjust="spacingAndGlyphs">5</text>
<text x="668.9" y="142" font-size="12.5" fill="#000" textLength="6.9" lengthAdjust="spacingAndGlyphs">6</text>
<text x="791.5" y="128.0" font-size="12.5" fill="#000" textLength="6.0" lengthAdjust="spacingAndGlyphs">4</text>
<text x="681.2" y="95.5" font-size="18" fill="#000" textLength="39.6" lengthAdjust="spacingAndGlyphs" stroke="#000" stroke-width="0.3">U2:B</text>
<text x="682.2" y="171" font-size="12.5" fill="#000" textLength="26.5" lengthAdjust="spacingAndGlyphs">4030</text>
<text x="681.5" y="185" font-size="12.5" fill="#808080" textLength="41.0" lengthAdjust="spacingAndGlyphs">&lt;TEXT&gt;</text>
<text x="663.3" y="229" font-size="12.5" fill="#000" textLength="13.7" lengthAdjust="spacingAndGlyphs">12</text>
<text x="663.3" y="258" font-size="12.5" fill="#000" textLength="13.7" lengthAdjust="spacingAndGlyphs">13</text>
<text x="791.3" y="243.0" font-size="12.5" fill="#000" textLength="13.7" lengthAdjust="spacingAndGlyphs">11</text>
<text x="681.2" y="210.5" font-size="18" fill="#000" textLength="41.2" lengthAdjust="spacingAndGlyphs" stroke="#000" stroke-width="0.3">U2:D</text>
<text x="682.2" y="286" font-size="12.5" fill="#000" textLength="26.5" lengthAdjust="spacingAndGlyphs">4030</text>
<text x="681.5" y="300" font-size="12.5" fill="#808080" textLength="41.0" lengthAdjust="spacingAndGlyphs">&lt;TEXT&gt;</text>
<text x="668.9" y="329" font-size="12.5" fill="#000" textLength="6.9" lengthAdjust="spacingAndGlyphs">8</text>
<text x="668.9" y="357" font-size="12.5" fill="#000" textLength="6.9" lengthAdjust="spacingAndGlyphs">9</text>
<text x="791.3" y="343.0" font-size="12.5" fill="#000" textLength="13.7" lengthAdjust="spacingAndGlyphs">10</text>
<text x="681.2" y="310.5" font-size="18" fill="#000" textLength="40.6" lengthAdjust="spacingAndGlyphs" stroke="#000" stroke-width="0.3">U3:C</text>
<text x="682.2" y="386" font-size="12.5" fill="#000" textLength="26.5" lengthAdjust="spacingAndGlyphs">4030</text>
<text x="681.5" y="400" font-size="12.5" fill="#808080" textLength="41.0" lengthAdjust="spacingAndGlyphs">&lt;TEXT&gt;</text>
<text x="482.9" y="415" font-size="12.5" fill="#000" textLength="6.9" lengthAdjust="spacingAndGlyphs">1</text>
<text x="482.9" y="444" font-size="12.5" fill="#000" textLength="6.9" lengthAdjust="spacingAndGlyphs">2</text>
<text x="604.8" y="429.5" font-size="12.5" fill="#000" textLength="6.0" lengthAdjust="spacingAndGlyphs">3</text>
<text x="495.2" y="397.5" font-size="18" fill="#000" textLength="38.3" lengthAdjust="spacingAndGlyphs" stroke="#000" stroke-width="0.3">U3:A</text>
<text x="496.2" y="472" font-size="12.5" fill="#000" textLength="26.5" lengthAdjust="spacingAndGlyphs">4030</text>
<text x="495.5" y="486" font-size="12.5" fill="#808080" textLength="41.0" lengthAdjust="spacingAndGlyphs">&lt;TEXT&gt;</text>
<text x="668.9" y="429" font-size="12.5" fill="#000" textLength="6.9" lengthAdjust="spacingAndGlyphs">5</text>
<text x="668.9" y="458" font-size="12.5" fill="#000" textLength="6.9" lengthAdjust="spacingAndGlyphs">6</text>
<text x="791.5" y="444.0" font-size="12.5" fill="#000" textLength="6.0" lengthAdjust="spacingAndGlyphs">4</text>
<text x="681.2" y="411.5" font-size="18" fill="#000" textLength="39.6" lengthAdjust="spacingAndGlyphs" stroke="#000" stroke-width="0.3">U3:B</text>
<text x="682.2" y="487" font-size="12.5" fill="#000" textLength="26.5" lengthAdjust="spacingAndGlyphs">4030</text>
<text x="681.5" y="501" font-size="12.5" fill="#808080" textLength="41.0" lengthAdjust="spacingAndGlyphs">&lt;TEXT&gt;</text>
<text x="663.3" y="530" font-size="12.5" fill="#000" textLength="13.7" lengthAdjust="spacingAndGlyphs">12</text>
<text x="663.3" y="559" font-size="12.5" fill="#000" textLength="13.7" lengthAdjust="spacingAndGlyphs">13</text>
<text x="791.3" y="545.0" font-size="12.5" fill="#000" textLength="13.7" lengthAdjust="spacingAndGlyphs">11</text>
<text x="681.2" y="512.5" font-size="18" fill="#000" textLength="40.6" lengthAdjust="spacingAndGlyphs" stroke="#000" stroke-width="0.3">U3:D</text>
<text x="682.2" y="588" font-size="12.5" fill="#000" textLength="26.5" lengthAdjust="spacingAndGlyphs">4030</text>
<text x="681.5" y="602" font-size="12.5" fill="#808080" textLength="41.0" lengthAdjust="spacingAndGlyphs">&lt;TEXT&gt;</text>
<text x="832.7" y="17.5" font-size="19" fill="#000" textLength="23.1" lengthAdjust="spacingAndGlyphs" stroke="#000" stroke-width="0.4">R2</text>
<text x="833.2" y="47" font-size="12.5" fill="#000" textLength="13.8" lengthAdjust="spacingAndGlyphs">1k</text>
<text x="833.2" y="60.5" font-size="12.5" fill="#808080" textLength="42.2" lengthAdjust="spacingAndGlyphs">&lt;TEXT&gt;</text>
<text x="832.7" y="118.5" font-size="19" fill="#000" textLength="23.1" lengthAdjust="spacingAndGlyphs" stroke="#000" stroke-width="0.4">R1</text>
<text x="833.2" y="148" font-size="12.5" fill="#000" textLength="19.6" lengthAdjust="spacingAndGlyphs">2k4</text>
<text x="833.2" y="161.5" font-size="12.5" fill="#808080" textLength="42.2" lengthAdjust="spacingAndGlyphs">&lt;TEXT&gt;</text>
<text x="832.7" y="233.5" font-size="19" fill="#000" textLength="23.1" lengthAdjust="spacingAndGlyphs" stroke="#000" stroke-width="0.4">R3</text>
<text x="833.2" y="263" font-size="12.5" fill="#000" textLength="14.2" lengthAdjust="spacingAndGlyphs">5k</text>
<text x="833.2" y="276.5" font-size="12.5" fill="#808080" textLength="42.2" lengthAdjust="spacingAndGlyphs">&lt;TEXT&gt;</text>
<text x="832.7" y="333.5" font-size="19" fill="#000" textLength="23.1" lengthAdjust="spacingAndGlyphs" stroke="#000" stroke-width="0.4">R5</text>
<text x="833.2" y="363" font-size="12.5" fill="#000" textLength="14.2" lengthAdjust="spacingAndGlyphs">5k</text>
<text x="833.2" y="376.5" font-size="12.5" fill="#808080" textLength="42.2" lengthAdjust="spacingAndGlyphs">&lt;TEXT&gt;</text>
<text x="832.7" y="434.5" font-size="19" fill="#000" textLength="23.1" lengthAdjust="spacingAndGlyphs" stroke="#000" stroke-width="0.4">R7</text>
<text x="833.2" y="464" font-size="12.5" fill="#000" textLength="14.2" lengthAdjust="spacingAndGlyphs">2k</text>
<text x="833.2" y="477.5" font-size="12.5" fill="#808080" textLength="42.2" lengthAdjust="spacingAndGlyphs">&lt;TEXT&gt;</text>
<text x="832.7" y="535.5" font-size="19" fill="#000" textLength="23.1" lengthAdjust="spacingAndGlyphs" stroke="#000" stroke-width="0.4">R8</text>
<text x="833.2" y="565" font-size="12.5" fill="#000" textLength="14.2" lengthAdjust="spacingAndGlyphs">2k</text>
<text x="833.2" y="578.5" font-size="12.5" fill="#808080" textLength="42.2" lengthAdjust="spacingAndGlyphs">&lt;TEXT&gt;</text>
<text x="970.3" y="291" font-size="12.5" fill="#000" textLength="8.1" lengthAdjust="spacingAndGlyphs">A</text>
<text x="970.3" y="320" font-size="12.5" fill="#000" textLength="8.1" lengthAdjust="spacingAndGlyphs">B</text>
<text x="970.3" y="349" font-size="12.5" fill="#000" textLength="8.1" lengthAdjust="spacingAndGlyphs">C</text>
<text x="970.3" y="378" font-size="12.5" fill="#000" textLength="8.1" lengthAdjust="spacingAndGlyphs">D</text>
<text x="965.1" y="55" font-size="12.5" fill="#0000c8" textLength="15.4" lengthAdjust="spacingAndGlyphs">(B)</text>
<text x="937.5" y="68.5" font-size="12.5" fill="#808080" textLength="41.7" lengthAdjust="spacingAndGlyphs">&lt;TEXT&gt;</text>
</g>
</svg>
</body></html>
